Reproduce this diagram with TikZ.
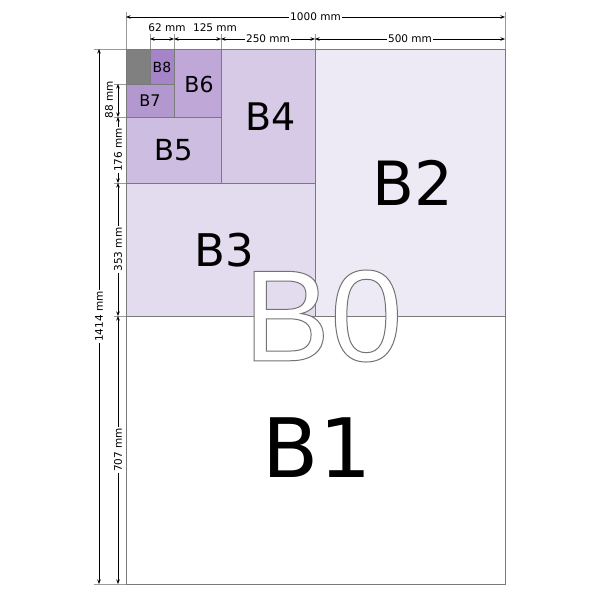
\documentclass[tikz,border=0pt]{standalone}
\usepackage{fontspec}
\setmainfont{DejaVu Sans}
\newfontfamily\arialfont{Liberation Sans}
\usetikzlibrary{arrows.meta}

\definecolor{edge}{HTML}{7A7A7A}
\definecolor{bcol2}{HTML}{EDEAF6}
\definecolor{bcol3}{HTML}{E3DCEE}
\definecolor{bcol4}{HTML}{D6CAE6}
\definecolor{bcol5}{HTML}{CDBDE1}
\definecolor{bcol6}{HTML}{BFA8D8}
\definecolor{bcol7}{HTML}{B298CF}
\definecolor{bcol8}{HTML}{A584C7}
\definecolor{bcol9}{HTML}{808080}

\tikzset{
  sheet/.style={draw=edge, line width=0.8pt},
  dim/.style={<->, >={Stealth[length=4.5pt,width=3.5pt]}, line width=0.7pt},
  ext/.style={draw=gray!80, line width=0.5pt},
  dimlabel/.style={fill=white, inner sep=1.5pt, font=\fontsize{10.5}{12}\selectfont},
  bigname/.style={inner sep=0pt}
}

\begin{document}
\begin{tikzpicture}[x=1pt,y=-1pt]
\useasboundingbox (0,0) rectangle (599,599);
% sheets
\filldraw[sheet, fill=white] (126,49) rectangle (505,584);
\filldraw[sheet, fill=bcol2] (315,49) rectangle (505,316);
\filldraw[sheet, fill=bcol3] (126,183) rectangle (315,316);
\filldraw[sheet, fill=bcol4] (221,49) rectangle (315,183);
\filldraw[sheet, fill=bcol5] (126,117) rectangle (221,183);
\filldraw[sheet, fill=bcol6] (174,49) rectangle (221,117);
\filldraw[sheet, fill=bcol7] (126,84) rectangle (174,117);
\filldraw[sheet, fill=bcol8] (150,49) rectangle (174,84);
\filldraw[sheet, fill=bcol9] (126,49) rectangle (150,84);
% names
\node[bigname] (nameB0) at (323,316) {{\arialfont\fontsize{130}{130}\selectfont\color{white}\special{pdf:literal direct 2 Tr 0.45 0.45 0.45 RG 1 w}B0\special{pdf:literal direct 0 Tr}}};
\node[bigname] (nameB1) at (317,448) {\fontsize{82}{82}\selectfont B1};
\node[bigname] (nameB2) at (413,183) {\fontsize{61}{61}\selectfont B2};
\node[bigname] (nameB3) at (224,250) {\fontsize{45}{45}\selectfont B3};
\node[bigname] (nameB4) at (271,117) {\fontsize{38}{38}\selectfont B4};
\node[bigname] (nameB5) at (174,150) {\fontsize{29}{29}\selectfont B5};
\node[bigname] (nameB6) at (199,84) {\fontsize{22}{22}\selectfont B6};
\node[bigname] (nameB7) at (150,101) {\fontsize{16}{16}\selectfont B7};
\node[bigname] (nameB8) at (162,67) {\fontsize{14}{14}\selectfont B8};
% extension lines, top
\draw[ext] (126,12) -- (126,49);
\draw[ext] (505,12) -- (505,49);
\draw[ext] (150,34) -- (150,49);
\draw[ext] (174,34) -- (174,49);
\draw[ext] (221,34) -- (221,49);
\draw[ext] (315,34) -- (315,49);
% extension lines, left
\draw[ext] (94,49) -- (126,49);
\draw[ext] (94,584) -- (126,584);
\draw[ext] (114,84) -- (126,84);
\draw[ext] (114,117) -- (126,117);
\draw[ext] (114,183) -- (126,183);
\draw[ext] (114,316) -- (126,316);
% widths
\draw[dim] (126,17) -- (505,17) node[dimlabel, midway] (w1000) {1000 mm};
\draw[dim] (150,39) -- (174,39);
\draw[dim] (174,39) -- (221,39);
\draw[dim] (221,39) -- (315,39) node[dimlabel, midway] (w250) {250 mm};
\draw[dim] (315,39) -- (505,39) node[dimlabel, midway] (w500) {500 mm};
\node[dimlabel, fill=none] (w62) at (167,28) {62 mm};
\node[dimlabel, fill=none] (w125) at (215,28) {125 mm};
% heights
\draw[dim] (99,49) -- (99,584) node[dimlabel, midway, rotate=90] (h1414) {1414 mm};
\draw[dim] (118,84) -- (118,117);
\draw[dim] (118,117) -- (118,183) node[dimlabel, midway, rotate=90] (h176) {176 mm};
\draw[dim] (118,183) -- (118,316) node[dimlabel, midway, rotate=90] (h353) {353 mm};
\draw[dim] (118,316) -- (118,584) node[dimlabel, midway, rotate=90] (h707) {707 mm};
\node[dimlabel, fill=none, rotate=90] (h88) at (109,100) {88 mm};
\end{tikzpicture}
\end{document}
